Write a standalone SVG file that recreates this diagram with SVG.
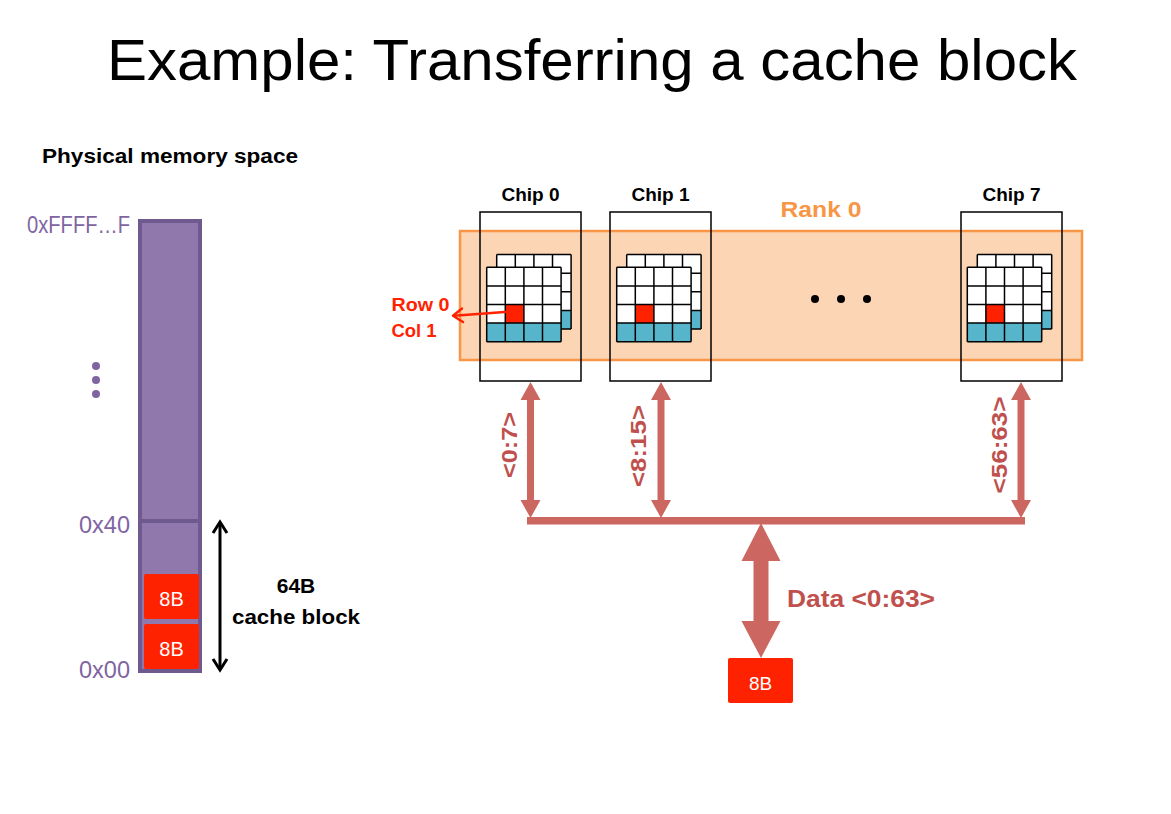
<svg xmlns="http://www.w3.org/2000/svg" xmlns:xlink="http://www.w3.org/1999/xlink" width="1171" height="814" viewBox="0 0 1171 814">
  <style>
    .t { font-family: "Liberation Sans", Arial, sans-serif; }
    .b { font-family: "Liberation Sans", Arial, sans-serif; font-weight: bold; }
    .purple { fill: #8064a2; }
    .chipbox { fill: none; stroke: #000; stroke-width: 1.5; }
    .gl { fill: none; stroke: #000; stroke-width: 1.5; }
    .arr { fill: #cc6660; }
    .lbl { fill: #c0504d; }
    .redbox { fill: #ff2200; }
  </style>
  <defs>
    <g id="grid">
      <rect x="10" y="-12.7" width="74.4" height="55.8" fill="#fff"/>
      <rect x="10" y="43.1" width="74.4" height="18.6" fill="#56b4cb"/>
      <path class="gl" d="M10 -12.7V61.7M28.6 -12.7V61.7M47.2 -12.7V61.7M65.8 -12.7V61.7M84.4 -12.7V61.7M10 -12.7H84.4M10 5.9H84.4M10 24.5H84.4M10 43.1H84.4M10 61.7H84.4"/>
      <rect x="0" y="0" width="74.4" height="55.8" fill="#fff"/>
      <rect x="0" y="55.8" width="74.4" height="18.6" fill="#56b4cb"/>
      <rect x="18.6" y="37.2" width="18.6" height="18.6" fill="#ff2200"/>
      <path class="gl" d="M0 0V74.4M18.6 0V74.4M37.2 0V74.4M55.8 0V74.4M74.4 0V74.4M0 0H74.4M0 18.6H74.4M0 37.2H74.4M0 55.8H74.4M0 74.4H74.4"/>
    </g>
  </defs>
  <rect width="1171" height="814" fill="#fff"/>

  <text id="title" class="t" x="107" y="80" font-size="58" textLength="970" lengthAdjust="spacingAndGlyphs" fill="#000">Example: Transferring a cache block</text>

  <g id="memory">
    <text class="b" x="42" y="163" font-size="20" textLength="256" lengthAdjust="spacingAndGlyphs" fill="#000">Physical memory space</text>
    <rect x="140" y="221" width="60" height="450" fill="#9178ac" stroke="#6e5a8e" stroke-width="4"/>
    <line x1="140" y1="521" x2="200" y2="521" stroke="#6e5a8e" stroke-width="4"/>
    <text class="t purple" x="130" y="233" font-size="23" text-anchor="end" textLength="103" lengthAdjust="spacingAndGlyphs">0xFFFF…F</text>
    <text class="t purple" x="130" y="533" font-size="23" text-anchor="end" textLength="51" lengthAdjust="spacingAndGlyphs">0x40</text>
    <text class="t purple" x="130" y="678" font-size="23" text-anchor="end" textLength="51" lengthAdjust="spacingAndGlyphs">0x00</text>
    <circle cx="96" cy="366" r="4" fill="#8064a2"/>
    <circle cx="96" cy="380" r="4" fill="#8064a2"/>
    <circle cx="96" cy="394" r="4" fill="#8064a2"/>
  </g>
  <g id="block-8B-1">
    <rect class="redbox" x="144" y="574" width="55" height="45" rx="2"/>
    <text class="t" x="171.5" y="606" font-size="20" fill="#fff" text-anchor="middle">8B</text>
  </g>
  <g id="block-8B-0">
    <rect class="redbox" x="144" y="624" width="55" height="45" rx="2"/>
    <text class="t" x="171.5" y="656" font-size="20" fill="#fff" text-anchor="middle">8B</text>
  </g>
  <g id="cache-block-label">
    <line x1="220" y1="524" x2="220" y2="668" stroke="#000" stroke-width="3"/>
    <path d="M213 533L220 522L227 533M213 659L220 670L227 659" fill="none" stroke="#000" stroke-width="3"/>
    <text class="b" x="296" y="593" font-size="21" text-anchor="middle" fill="#000">64B</text>
    <text class="b" x="296" y="624" font-size="21" text-anchor="middle" textLength="128" lengthAdjust="spacingAndGlyphs" fill="#000">cache block</text>
  </g>

  <g id="rank0">
    <rect x="460" y="231" width="622" height="129" fill="#fcd5b5" stroke="#f79646" stroke-width="2.5"/>
    <text class="b" x="780.5" y="217" font-size="22" textLength="81" lengthAdjust="spacingAndGlyphs" fill="#f79646">Rank 0</text>
    <circle cx="815" cy="299" r="4" fill="#000"/>
    <circle cx="841" cy="299" r="4" fill="#000"/>
    <circle cx="867" cy="299" r="4" fill="#000"/>
  </g>

  <g id="chip0">
    <rect class="chipbox" x="480" y="212" width="101" height="169"/>
    <text class="b" x="530.5" y="200.5" font-size="19" text-anchor="middle" fill="#000">Chip 0</text>
    <use xlink:href="#grid" href="#grid" x="486.7" y="267.3"/>
  </g>
  <g id="chip1">
    <rect class="chipbox" x="610" y="212" width="101" height="169"/>
    <text class="b" x="660.5" y="200.5" font-size="19" text-anchor="middle" fill="#000">Chip 1</text>
    <use xlink:href="#grid" href="#grid" x="616.7" y="267.3"/>
  </g>
  <g id="chip7">
    <rect class="chipbox" x="961" y="212" width="101" height="169"/>
    <text class="b" x="1011.5" y="200.5" font-size="19" text-anchor="middle" fill="#000">Chip 7</text>
    <use xlink:href="#grid" href="#grid" x="967.3" y="267.3"/>
  </g>

  <g id="row-col-label">
    <text class="b" x="391.5" y="311" font-size="18.5" fill="#ff2200" textLength="58" lengthAdjust="spacingAndGlyphs">Row 0</text>
    <text class="b" x="391.5" y="337" font-size="18.5" fill="#ff2200" textLength="45" lengthAdjust="spacingAndGlyphs">Col 1</text>
  </g>

  <g id="data-8B">
    <rect class="redbox" x="728" y="658" width="65" height="45" rx="2"/>
    <text class="t" x="760.5" y="690" font-size="19" fill="#fff" text-anchor="middle">8B</text>
  </g>

  <g id="connectors">
    <line x1="508" y1="311.7" x2="454" y2="315.7" stroke="#ff2200" stroke-width="2.5"/>
    <path d="M462 308.5L453 315.8L463 322" fill="none" stroke="#ff2200" stroke-width="2.5" stroke-linecap="round" stroke-linejoin="round"/>
    <polygon class="arr" points="530.5,382 540.5,400 534,400 534,500 540.5,500 530.5,518 520.5,500 527,500 527,400 520.5,400"/>
    <polygon class="arr" points="661,382 671,400 664.5,400 664.5,500 671,500 661,518 651,500 657.5,500 657.5,400 651,400"/>
    <polygon class="arr" points="1021,382 1031,400 1024.5,400 1024.5,500 1031,500 1021,518 1011,500 1017.5,500 1017.5,400 1011,400"/>
    <rect class="arr" x="527" y="517" width="498" height="7.5"/>
    <polygon class="arr" points="761,523 780.5,561 768.5,561 768.5,621 780.5,621 761,658 741.5,621 753.5,621 753.5,561 741.5,561"/>
    <text class="b lbl" transform="translate(516.5 445) rotate(-90)" font-size="22" text-anchor="middle" textLength="66" lengthAdjust="spacingAndGlyphs">&lt;0:7&gt;</text>
    <text class="b lbl" transform="translate(646 446) rotate(-90)" font-size="22" text-anchor="middle" textLength="82" lengthAdjust="spacingAndGlyphs">&lt;8:15&gt;</text>
    <text class="b lbl" transform="translate(1007 445) rotate(-90)" font-size="22" text-anchor="middle" textLength="97" lengthAdjust="spacingAndGlyphs">&lt;56:63&gt;</text>
    <text class="b lbl" x="787" y="607" font-size="23" textLength="148" lengthAdjust="spacingAndGlyphs">Data &lt;0:63&gt;</text>
  </g>
</svg>
